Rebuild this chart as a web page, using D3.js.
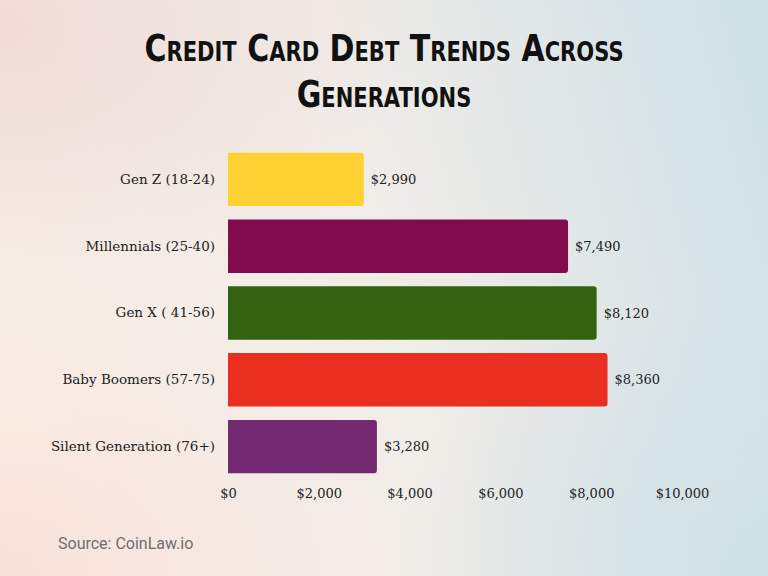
<!DOCTYPE html>
<html>
<head>
<meta charset="utf-8">
<script src="https://cdn.jsdelivr.net/npm/d3@7"></script>
<style>
  body { margin: 0; }
  svg { display: block; }
</style>
</head>
<body>
<svg id="chart"></svg>
<script>
// data
var categories = ["Gen Z (18-24)", "Millennials (25-40)", "Gen X ( 41-56)", "Baby Boomers (57-75)", "Silent Generation (76+)"];
var debt = [2990, 7490, 8120, 8360, 3280];
var barColors = ["#fdd131", "#820b4e", "#336210", "#e82f20", "#722971"];
var tickValues = [0, 2000, 4000, 6000, 8000, 10000];

var width = 768, height = 576;

var svg = d3.select("#chart")
    .attr("width", width)
    .attr("height", height);

// soft background wash
var defs = svg.append("defs");
var g1 = defs.append("linearGradient").attr("id", "bg1")
    .attr("x1", "0").attr("y1", "0.5").attr("x2", "1").attr("y2", "0.3");
g1.append("stop").attr("offset", "0").attr("stop-color", "#f9f1e8");
g1.append("stop").attr("offset", "0.5").attr("stop-color", "#f0ece8");
g1.append("stop").attr("offset", "1").attr("stop-color", "#d0e1e6");
var g2 = defs.append("radialGradient").attr("id", "bg2")
    .attr("cx", "0").attr("cy", "0.05").attr("r", "0.55");
g2.append("stop").attr("offset", "0").attr("stop-color", "#eed7d3").attr("stop-opacity", 0.8);
g2.append("stop").attr("offset", "1").attr("stop-color", "#eed7d3").attr("stop-opacity", 0);
var g3 = defs.append("radialGradient").attr("id", "bg3")
    .attr("cx", "0").attr("cy", "1").attr("r", "0.55");
g3.append("stop").attr("offset", "0").attr("stop-color", "#f7ded8").attr("stop-opacity", 0.8);
g3.append("stop").attr("offset", "1").attr("stop-color", "#f7ded8").attr("stop-opacity", 0);
var g4 = defs.append("radialGradient").attr("id", "bg4")
    .attr("cx", "1").attr("cy", "1").attr("r", "0.5");
g4.append("stop").attr("offset", "0").attr("stop-color", "#cde0e6").attr("stop-opacity", 0.9);
g4.append("stop").attr("offset", "1").attr("stop-color", "#cde0e6").attr("stop-opacity", 0);

["bg1", "bg2", "bg3", "bg4"].forEach(function(id) {
    svg.append("rect").attr("width", width).attr("height", height)
        .attr("fill", "url(#" + id + ")");
});

// title (squeezed horizontally to mimic the condensed display face)
var title = svg.append("text")
    .attr("transform", "translate(" + (width / 2) + ",0) scale(0.79,1)")
    .attr("text-anchor", "middle")
    .attr("font-family", "'DejaVu Sans', sans-serif")
    .attr("font-weight", "bold")
    .attr("font-size", 38)
    .attr("fill", "#111")
    .style("font-variant", "small-caps");
title.append("tspan").attr("x", 0).attr("y", 61).text("Credit Card Debt Trends Across");
title.append("tspan").attr("x", 0).attr("y", 107).text("Generations");

var x = d3.scaleLinear()
    .domain([0, 10000])
    .range([228, 682]);

var y = d3.scaleBand()
    .domain(categories)
    .range([146, 480])
    .paddingInner(0.2)
    .paddingOuter(0.1);

var data = categories.map(function(c, i) {
    return { name: c, value: debt[i], color: barColors[i] };
});

// bars: rounded right side only
function barPath(d) {
    var x0 = x(0), x1 = x(d.value), y0 = y(d.name), h = y.bandwidth(), r = 3;
    return "M" + x0 + "," + y0 +
        "H" + (x1 - r) + "Q" + x1 + "," + y0 + " " + x1 + "," + (y0 + r) +
        "V" + (y0 + h - r) + "Q" + x1 + "," + (y0 + h) + " " + (x1 - r) + "," + (y0 + h) +
        "H" + x0 + "Z";
}

svg.selectAll("path.bar")
    .data(data)
    .enter()
    .append("path")
    .attr("class", "bar")
    .attr("d", barPath)
    .attr("fill", function(d) { return d.color; });

var serif = "'DejaVu Serif', 'Liberation Serif', serif";

// value labels
svg.selectAll("text.value")
    .data(data)
    .enter()
    .append("text")
    .attr("class", "value")
    .attr("x", function(d) { return x(d.value) + 7; })
    .attr("y", function(d) { return y(d.name) + y.bandwidth() / 2; })
    .attr("dy", "0.35em")
    .attr("font-family", serif)
    .attr("font-size", 13)
    .attr("fill", "#222")
    .text(function(d) { return d3.format("$,")(d.value); });

// category axis
var yAxis = svg.append("g")
    .attr("transform", "translate(" + x(0) + ",0)")
    .call(d3.axisLeft(y).tickSize(0).tickPadding(13));
yAxis.select(".domain").remove();
yAxis.selectAll("text")
    .attr("font-family", serif)
    .attr("font-size", 13.5)
    .attr("fill", "#222");

// value axis
var xAxis = svg.append("g")
    .attr("transform", "translate(0,480)")
    .call(d3.axisBottom(x).tickValues(tickValues).tickSize(0).tickPadding(9)
        .tickFormat(d3.format("$,")));
xAxis.select(".domain").remove();
xAxis.selectAll("text")
    .attr("font-family", serif)
    .attr("font-size", 13)
    .attr("fill", "#222");

// source note
svg.append("text")
    .attr("x", 58)
    .attr("y", 549)
    .attr("font-family", "'Roboto', sans-serif")
    .attr("font-size", 16)
    .attr("fill", "#6e6e6e")
    .text("Source: CoinLaw.io");
</script>
</body>
</html>
